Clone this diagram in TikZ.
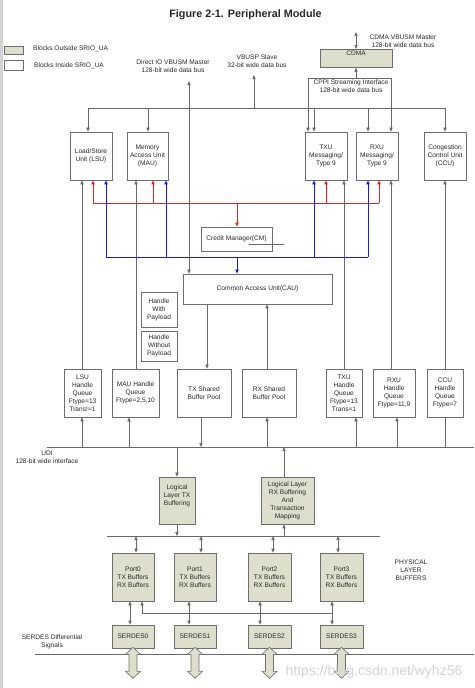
\documentclass[tikz,border=0pt]{standalone}
\usepackage{fontspec}
\setmainfont{Liberation Sans}
\usetikzlibrary{arrows.meta}
\definecolor{outfill}{RGB}{221,223,204}
\definecolor{ln}{RGB}{105,105,105}
\definecolor{bd}{RGB}{110,110,110}
\definecolor{rd}{RGB}{240,30,30}
\definecolor{bl}{RGB}{25,25,235}
\definecolor{txt}{RGB}{40,40,40}
\definecolor{wm}{RGB}{212,212,212}
\definecolor{edgegray}{RGB}{210,210,210}
\begin{document}
\begin{tikzpicture}[x=1pt,y=-1pt,
  every node/.style={font=\fontsize{6.6}{8}\selectfont, inner sep=1pt, align=center, text=txt},
  box/.style={draw=bd, line width=0.6pt, fill=white},
  gbox/.style={box, fill=outfill},
  wire/.style={draw=ln, line width=0.55pt},
  redw/.style={draw=rd, line width=1pt},
  bluew/.style={draw=bl, line width=1pt},
  tip/.style={-{Triangle[length=4pt,width=3.2pt]}},
  tips/.style={{Triangle[length=4pt,width=3.2pt]}-{Triangle[length=4pt,width=3.2pt]}},
  barrow/.style={draw=bd, line width=0.6pt, fill=outfill}
]
\useasboundingbox (0,0) rectangle (474,688);
\fill[white] (0,0) rectangle (474,688);
\fill[edgegray] (0,0) rectangle (3,688);

% title
\node[font=\fontsize{10.8}{12}\selectfont\bfseries] (title) at (245.5,15) {Figure 2-1. Peripheral Module};

% legend
\node[gbox, minimum width=19pt, minimum height=8pt] (leg1) at (13.5,50) {};
\node[box, minimum width=19pt, minimum height=10pt] (leg2) at (13.5,65) {};
\node[anchor=west] (leg1t) at (32,49) {Blocks Outside SRIO\_UA};
\node[anchor=west] (leg2t) at (33,66) {Blocks Inside SRIO\_UA};

% top labels
\node (diolbl) at (173,66) {Direct IO VBUSM Master\\128-bit wide data bus};
\node (vbplbl) at (257,61) {VBUSP Slave\\32-bit wide data bus};
\node (cdmalbl) at (403,41.5) {CDMA VBUSM Master\\128-bit wide data bus};
\node (cppilbl) at (351,86.5) {CPPI Streaming Interface\\128-bit wide data bus};

% CDMA
\node[gbox, anchor=north, minimum width=72pt, text height=5pt, text depth=11pt, inner ysep=1pt] (cdma) at (356,49) {CDMA};

% upper units
\node[box, minimum width=42pt, minimum height=48pt] (lsu) at (91,156) {Load/Store\\Unit (LSU)};
\node[box, minimum width=41pt, minimum height=48pt] (mau) at (147.5,156) {Memory\\Access Unit\\(MAU)};
\node[box, minimum width=42pt, minimum height=48pt] (txu) at (326,156) {TXU\\Messaging/\\Type 9};
\node[box, minimum width=42pt, minimum height=48pt] (rxu) at (377,156) {RXU\\Messaging/\\Type 9};
\node[box, minimum width=42pt, minimum height=48pt] (ccu) at (445,156) {Congestion\\Control Unit\\(CCU)};

% CM and CAU
\node[box, minimum width=71pt, minimum height=24pt] (cm) at (236.5,239) {Credit Manager(CM)};
\node[box, minimum width=149pt, minimum height=30pt] (cau) at (257.5,289) {Common Access Unit(CAU)};
\node[box, minimum width=36pt, minimum height=35pt] (hwp) at (159,309.5) {Handle\\With\\Payload};
\node[box, minimum width=36pt, minimum height=30pt] (hwop) at (159,346) {Handle\\Without\\Payload};

% lower queues
\node[box, minimum width=37pt, minimum height=48pt] (lsuhq) at (82.5,393) {LSU\\Handle\\Queue\\Ftype=13\\Trans!=1};
\node[box, minimum width=47pt, minimum height=48pt] (mauhq) at (135.5,393) {MAU Handle\\Queue\\Ftype=2,5,10};
\node[box, minimum width=54pt, minimum height=48pt] (txp) at (204,393) {TX Shared\\Buffer Pool};
\node[box, minimum width=54pt, minimum height=48pt] (rxp) at (269,393) {RX Shared\\Buffer Pool};
\node[box, minimum width=36pt, minimum height=48pt] (txuhq) at (344,393) {TXU\\Handle\\Queue\\Ftype=13\\Trans=1};
\node[box, minimum width=42pt, minimum height=48pt] (rxuhq) at (394,393) {RXU\\Handle\\Queue\\Ftype=11,9};
\node[box, minimum width=36pt, minimum height=48pt] (ccuhq) at (445,393) {CCU\\Handle\\Queue\\Ftype=7};

% UDI label
\node (udilbl) at (47,457.5) {UDI\\128-bit wide interface};

% logical layer
\node[gbox, minimum width=36pt, minimum height=47pt] (lltx) at (177,500.5) {Logical\\Layer TX\\Buffering\\[3pt]};
\node[gbox, minimum width=53pt, minimum height=47pt] (llrx) at (287.5,500.5) {Logical Layer\\RX Buffering\\And\\Transaction\\Mapping};

% ports
\node[gbox, minimum width=42pt, minimum height=48pt] (p0) at (133,577) {Port0\\TX Buffers\\RX Buffers};
\node[gbox, minimum width=42pt, minimum height=48pt] (p1) at (195,577) {Port1\\TX Buffers\\RX Buffers};
\node[gbox, minimum width=43pt, minimum height=48pt] (p2) at (269.5,577) {Port2\\TX Buffers\\RX Buffers};
\node[gbox, minimum width=43pt, minimum height=48pt] (p3) at (341.5,577) {Port3\\TX Buffers\\RX Buffers};
\node (phylbl) at (411,570) {PHYSICAL\\LAYER\\BUFFERS};

% serdes
\node[gbox, minimum width=42pt, minimum height=23pt] (s0) at (133,636.5) {SERDES0};
\node[gbox, minimum width=42pt, minimum height=23pt] (s1) at (195,636.5) {SERDES1};
\node[gbox, minimum width=43pt, minimum height=23pt] (s2) at (269.5,636.5) {SERDES2};
\node[gbox, minimum width=43pt, minimum height=23pt] (s3) at (341.5,636.5) {SERDES3};
\node (serlbl) at (52,642) {SERDES Differential\\Signals};

% ---------- coordinates ----------
\coordinate (topbus) at (0,108);
\coordinate (redbus) at (0,203);
\coordinate (bluebus) at (0,257);
\coordinate (udibus) at (0,447);
\coordinate (llbus) at (0,536);
\coordinate (linkrow) at (0,613);
\coordinate (botrow) at (0,654);
\coordinate (cppitop) at (0,78);

\coordinate (xkLSU) at (82,0);  \coordinate (xrLSU) at (93,0);  \coordinate (xbLSU) at (106,0); \coordinate (xdLSU) at (88,0);
\coordinate (xkMAU) at (136,0); \coordinate (xrMAU) at (153,0); \coordinate (xbMAU) at (166,0); \coordinate (xdMAU) at (148,0);
\coordinate (xbTXU) at (314,0); \coordinate (xrTXU) at (326,0); \coordinate (xkTXU) at (344,0); \coordinate (xcpL) at (308,0);
\coordinate (xbRXU) at (368,0); \coordinate (xrRXU) at (379,0); \coordinate (xkRXU) at (391,0);
\coordinate (xkCCU) at (445,0);
\coordinate (xdio) at (189,0);  \coordinate (xvbp) at (254,0);  \coordinate (xcm) at (237,0);
\coordinate (xtxp) at (207,0);  \coordinate (xrxp) at (267,0);
\coordinate (xuMAU) at (129,0); \coordinate (xuTXP) at (201,0); \coordinate (xuTXU) at (356,0); \coordinate (xuRXU) at (397,0);
\coordinate (xudiL) at (47,0);  \coordinate (xudiR) at (474,0);
\coordinate (xllL) at (107,0);  \coordinate (xllR) at (380,0);
\coordinate (xlltx) at (177,0); \coordinate (xllrx) at (284,0);
\coordinate (xp0) at (136,0); \coordinate (xp1) at (201,0); \coordinate (xp2) at (273,0); \coordinate (xp3) at (338,0);
\coordinate (xs0) at (130,0); \coordinate (xs1) at (189,0); \coordinate (xs2) at (260,0); \coordinate (xs3) at (332,0);
\coordinate (xlink) at (142,0);
\coordinate (xbotL) at (35,0);
\coordinate (dioend) at (189,81);
\coordinate (vbpend) at (254,75);
\coordinate (cdmaend) at (356,32);

% ---------- top bus ----------
\draw[wire] (xdLSU |- topbus) -- (xkCCU |- topbus);
\draw[wire,tip] (xdLSU |- topbus) -- (xdLSU |- lsu.north);
\draw[wire,tip] (xdMAU |- topbus) -- (xdMAU |- mau.north);
\draw[wire,tip] (xbTXU |- topbus) -- (xbTXU |- txu.north);
\draw[wire,tip] (xbRXU |- topbus) -- (xbRXU |- rxu.north);
\draw[wire,tip] (xkCCU |- topbus) -- (xkCCU |- ccu.north);
\draw[wire,tip] (xvbp |- topbus) -- (vbpend);
\draw[wire,tips] (xdio |- cau.north) -- (dioend);
% CPPI
\draw[wire,tips] (xcpL |- txu.north) -- (xcpL |- cppitop) -- (xkRXU |- cppitop) -- (xkRXU |- rxu.north);
\draw[wire,tip] (cdma.south |- cppitop) -- (cdma.south);
\draw[wire,tips] (cdma.north) -- (cdmaend);

% ---------- long verticals ----------
\draw[wire,tip] (xkLSU |- lsuhq.north) -- (xkLSU |- lsu.south);
\draw[wire,tip] (xkMAU |- mauhq.north) -- (xkMAU |- mau.south);
\draw[wire,tip] (xkTXU |- txuhq.north) -- (xkTXU |- txu.south);
\draw[wire,tip] (xkRXU |- rxuhq.north) -- (xkRXU |- rxu.south);
\draw[wire,tip] (xkCCU |- ccuhq.north) -- (xkCCU |- ccu.south);
\draw[wire,tip] (xtxp |- cau.south) -- (xtxp |- txp.north);
\draw[wire,tip] (xrxp |- rxp.north) -- (xrxp |- cau.south);

% ---------- red ----------
\draw[redw] (xrLSU |- redbus) -- (xrRXU |- redbus);
\foreach \c/\n in {xrLSU/lsu,xrMAU/mau,xrTXU/txu,xrRXU/rxu}
  \draw[redw,tip] (\c |- redbus) -- (\c |- \n.south);
\draw[redw,tip] (xcm |- redbus) -- (xcm |- cm.north);

% ---------- blue ----------
\draw[bluew] (xbLSU |- bluebus) -- (xbRXU |- bluebus);
\foreach \c/\n in {xbLSU/lsu,xbMAU/mau,xbTXU/txu,xbRXU/rxu}
  \draw[bluew,tip] (\c |- bluebus) -- (\c |- \n.south);
\draw[bluew,tip] (xcm |- bluebus) -- (xcm |- cau.north);
\draw[ln, line width=0.6pt] (249,244) -- (284,244);

% ---------- UDI bus ----------
\draw[wire] (xudiL |- udibus) -- (xudiR |- udibus);
\draw[wire,tip] (xkLSU |- udibus) -- (xkLSU |- lsuhq.south);
\draw[wire,tip] (xuMAU |- udibus) -- (xuMAU |- mauhq.south);
\draw[wire,tip] (xuTXP |- txp.south) -- (xuTXP |- udibus);
\draw[wire,tip] (xrxp |- udibus) -- (xrxp |- rxp.south);
\draw[wire,tip] (xuTXU |- udibus) -- (xuTXU |- txuhq.south);
\draw[wire,tip] (xuRXU |- udibus) -- (xuRXU |- rxuhq.south);
\draw[wire] (xkCCU |- udibus) -- (xkCCU |- ccuhq.south);
\draw[wire,tip] (xlltx |- udibus) -- (xlltx |- lltx.north);
\draw[wire,tip] (xllrx |- llrx.north) -- (xllrx |- udibus);

% ---------- logical bus ----------
\draw[wire] (xllL |- llbus) -- (xllR |- llbus);
\draw[wire,tip] (xlltx |- lltx.south) -- (xlltx |- llbus);
\draw[wire,tip] (xllrx |- llbus) -- (xllrx |- llrx.south);
\foreach \c/\n in {xp0/p0,xp1/p1,xp2/p2,xp3/p3}
  \draw[wire,tips] (\c |- llbus) -- (\c |- \n.north);
\foreach \c/\n/\m in {xs0/p0/s0,xs1/p1/s1,xs2/p2/s2,xs3/p3/s3}
  \draw[wire,tips] (\c |- \n.south) -- (\c |- \m.north);
\draw[wire,tip] (xs3 |- linkrow) -- (xlink |- linkrow) -- (xlink |- p0.south);

% ---------- bottom ----------
\draw[wire] (xbotL |- botrow) -- (xudiR |- botrow);
\foreach \n in {s0,s1,s2,s3}
  \draw[barrow] ([yshift=1pt]\n.south) -- ++(7.5,7) -- ++(-3.5,0) -- ++(0,17) -- ++(3.5,0)
     -- ++(-7.5,7) -- ++(-7.5,-7) -- ++(3.5,0) -- ++(0,-17) -- ++(-3.5,0) -- cycle;

% watermark
\node[font=\fontsize{14}{16}\selectfont, text=wm] (wmark) at (374,672) {https://blog.csdn.net/wyhz56};
\end{tikzpicture}
\end{document}
